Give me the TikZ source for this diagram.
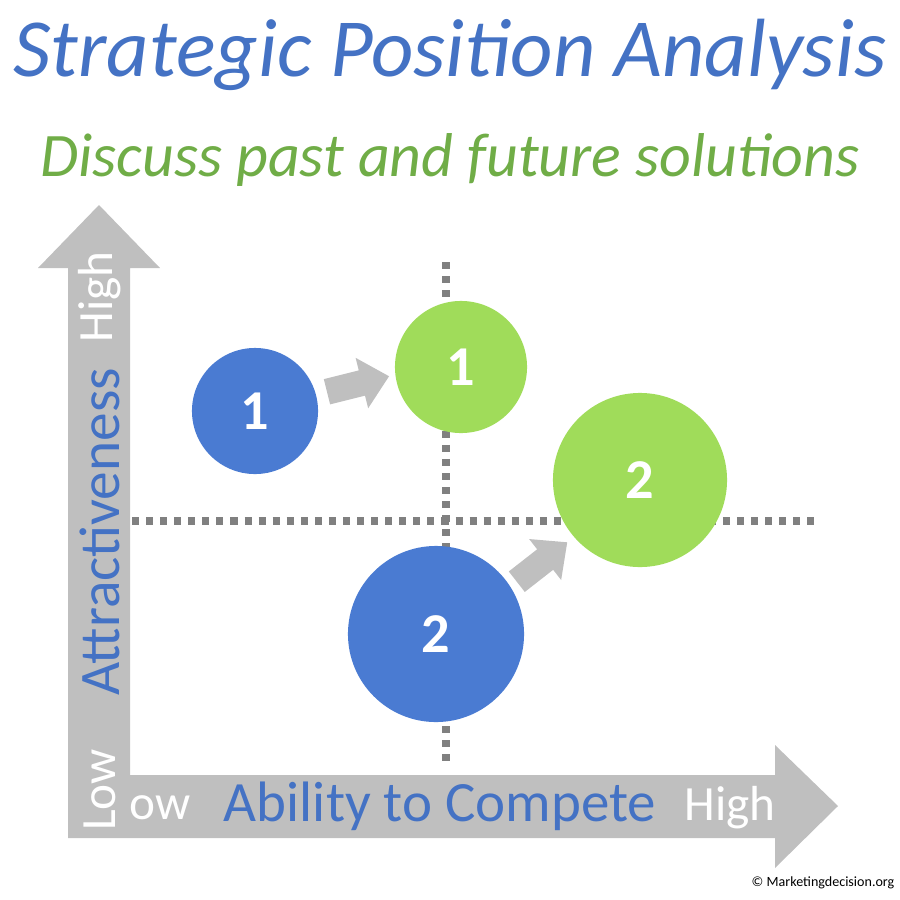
\documentclass[tikz,border=0pt]{standalone}
\usepackage{fontspec}
\setmainfont{Carlito}
\definecolor{tblue}{HTML}{4472C4}
\definecolor{tgreen}{HTML}{70AD47}
\definecolor{cblue}{HTML}{4A7BD2}
\definecolor{cgreen}{HTML}{A0DC5A}
\definecolor{agray}{HTML}{BFBFBF}
\definecolor{dgray}{HTML}{808080}
\tikzset{
  bubble/.style={circle, inner sep=0pt, text=white, font=\fontsize{16}{16}\selectfont\bfseries},
  grid/.style={dgray, line width=2pt, dash pattern=on 2pt off 2pt},
  lbl/.style={inner sep=0pt, font=\fontsize{14}{14}\selectfont}
}
\newcommand{\movearrow}{(-32,-13) -- (4,-13) -- (4,-26) -- (32,0) -- (4,26) -- (4,13) -- (-32,13) -- cycle}
\begin{document}
\begin{tikzpicture}[x=0.01cm, y=-0.01cm]
  \useasboundingbox (0,0) rectangle (900,900);
  % axes
  \fill[agray] (68,838) -- (68,268) -- (38,268) -- (99,205) -- (160,268) -- (130,268)
               -- (130,775) -- (775,775) -- (775,745) -- (838,806) -- (775,868) -- (775,838) -- cycle;
  % quadrant lines
  \coordinate (vtop) at (446,262);
  \coordinate (vbot) at (446,765);
  \coordinate (hleft) at (132,521);
  \coordinate (hright) at (815,521);
  \draw[grid] (vtop) -- (vbot);
  \draw[grid] (hleft) -- (hright);
  % titles
  \node (title) [text=tblue, font=\fontsize{23.5}{23.5}\selectfont\itshape] at (450,55) {Strategic Position Analysis};
  \node (sub) [text=tgreen, font=\fontsize{17.6}{17.6}\selectfont\itshape] at (450,160) {Discuss past and future solutions};
  % axis labels
  \node (yhigh) [lbl, text=white, rotate=90] at (100,297) {High};
  \node (yname) [lbl, text=tblue, rotate=90, font=\fontsize{16.3}{16.3}\selectfont] at (100,532) {Attractiveness};
  \node (ylow) [lbl, text=white, rotate=90] at (100,790) {Low};
  \node (xlow) [lbl, text=white] at (160,808) {ow};
  \node (xname) [lbl, text=tblue, font=\fontsize{16.2}{16.2}\selectfont] at (440,806) {Ability to Compete};
  \node (xhigh) [lbl, text=white] at (730,808) {High};
  % bubbles
  \node (b1) [bubble, fill=cblue, minimum size=1.26cm] at (255,411) {1};
  \node (g1) [bubble, fill=cgreen, minimum size=1.32cm] at (461,367) {1};
  \node (g2) [bubble, fill=cgreen, minimum size=1.74cm] at (640,480) {2};
  \node (b2) [bubble, fill=cblue, minimum size=1.76cm] at (436,634) {2};
  % moves
  \fill[agray, shift={(358,384)}, rotate=14] \movearrow;
  \fill[agray, shift={(542,562)}, rotate=38] \movearrow;
  \node (copy) [font=\fontsize{4}{4}\selectfont, anchor=east, inner sep=0pt] at (895,883) {© Marketingdecision.org};
\end{tikzpicture}
\end{document}
